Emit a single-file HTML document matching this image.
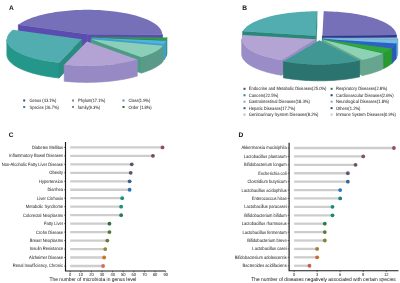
<!DOCTYPE html>
<html><head><meta charset="utf-8"><style>
html,body{margin:0;padding:0;background:#fff;}
svg{display:block;}
text{font-family:"Liberation Sans",sans-serif;fill:#111;text-rendering:geometricPrecision;}
svg{will-change:transform;}
</style></head><body>
<svg width="400" height="283" viewBox="0 0 400 283">
<rect width="400" height="283" fill="#fff"/>
<text x="9" y="10" font-size="6.6" font-weight="bold">A</text>
<text x="242.3" y="10" font-size="6.6" font-weight="bold">B</text>
<text x="8.8" y="137" font-size="6.6" font-weight="bold">C</text>
<text x="238.6" y="137" font-size="6.6" font-weight="bold">D</text>
<polygon points="162.16,34.27 162.14,34.83 162.14,50.46 162.16,49.90" fill="#5a4ea8" stroke="#5a4ea8" stroke-width="0.7" stroke-linejoin="round"/>
<polygon points="87.29,34.27 18.32,24.75 18.32,40.38 87.29,49.90" fill="#5b4db0" stroke="#5b4db0" stroke-width="0.7" stroke-linejoin="round"/>
<polygon points="87.29,34.27 162.14,34.83 162.14,50.46 87.29,49.90" fill="#5b4db0" stroke="#5b4db0" stroke-width="0.7" stroke-linejoin="round"/>
<polygon points="87.29,34.27 18.32,24.75 19.38,23.97 20.53,23.20 21.75,22.45 23.06,21.70 24.45,20.98 25.91,20.27 27.45,19.57 29.06,18.90 30.74,18.24 32.49,17.61 34.31,16.99 36.19,16.39 38.14,15.82 40.14,15.27 42.21,14.74 44.33,14.24 46.50,13.76 48.72,13.31 50.99,12.88 53.30,12.48 55.66,12.10 58.05,11.75 60.48,11.43 62.94,11.14 65.43,10.88 67.95,10.64 70.49,10.43 73.06,10.26 75.64,10.11 78.23,9.99 80.84,9.90 83.45,9.84 86.07,9.81 88.69,9.82 91.31,9.85 93.92,9.91 96.53,10.00 99.12,10.12 101.70,10.27 104.26,10.45 106.80,10.66 109.32,10.89 111.81,11.16 114.27,11.46 116.70,11.78 119.09,12.13 121.44,12.50 123.75,12.91 126.02,13.34 128.23,13.79 130.40,14.27 132.52,14.78 134.58,15.31 136.58,15.86 138.52,16.44 140.40,17.03 142.21,17.65 143.96,18.29 145.64,18.94 147.24,19.62 148.78,20.32 150.23,21.03 151.61,21.75 152.91,22.50 154.14,23.26 155.27,24.03 156.33,24.81 157.30,25.60 158.19,26.41 158.99,27.23 159.70,28.05 160.32,28.88 160.85,29.72 161.29,30.56 161.65,31.41 161.91,32.26 162.08,33.12 162.15,33.97 162.14,34.83" fill="#7670b8"/>
<polygon points="166.86,37.58 166.74,38.51 166.51,39.43 166.18,40.35 166.18,55.98 166.51,55.06 166.74,54.14 166.86,53.21" fill="#238a38" stroke="#238a38" stroke-width="0.7" stroke-linejoin="round"/>
<polygon points="92.01,37.03 166.18,40.35 166.18,55.98 92.01,52.66" fill="#238a38" stroke="#238a38" stroke-width="0.7" stroke-linejoin="round"/>
<polygon points="92.01,37.03 166.86,37.58 166.74,38.51 166.51,39.43 166.18,40.35" fill="#2e9e46"/>
<polygon points="166.15,40.80 165.76,41.68 165.27,42.55 164.68,43.42 164.00,44.28 164.00,59.91 164.68,59.05 165.27,58.18 165.76,57.31 166.15,56.43" fill="#3f9fd0" stroke="#3f9fd0" stroke-width="0.7" stroke-linejoin="round"/>
<polygon points="91.89,37.70 164.00,44.28 164.00,59.91 91.89,53.33" fill="#3f9fd0" stroke="#3f9fd0" stroke-width="0.7" stroke-linejoin="round"/>
<polygon points="91.89,37.70 166.15,40.80 165.76,41.68 165.27,42.55 164.68,43.42 164.00,44.28" fill="#52b2e2"/>
<polygon points="58.98,62.66 56.49,62.39 54.04,62.09 51.62,61.76 49.23,61.40 46.89,61.01 44.59,60.60 42.33,60.16 40.13,59.70 37.97,59.21 35.87,58.69 33.82,58.16 31.84,57.60 29.91,57.01 28.05,56.41 26.25,55.78 24.53,55.14 22.87,54.47 21.28,53.79 19.77,53.09 18.34,52.37 16.98,51.64 15.70,50.89 14.51,50.13 13.40,49.35 12.37,48.56 11.42,47.76 10.56,46.95 9.79,46.13 9.11,45.30 8.52,44.47 8.02,43.63 7.60,42.78 7.28,41.93 7.05,41.07 6.91,40.22 6.87,39.36 6.87,54.66 6.91,55.52 7.05,56.37 7.28,57.23 7.60,58.08 8.02,58.93 8.52,59.77 9.11,60.60 9.79,61.43 10.56,62.25 11.42,63.06 12.37,63.86 13.40,64.65 14.51,65.43 15.70,66.19 16.98,66.94 18.34,67.67 19.77,68.39 21.28,69.09 22.87,69.77 24.53,70.44 26.25,71.08 28.05,71.71 29.91,72.31 31.84,72.90 33.82,73.46 35.87,73.99 37.97,74.51 40.13,75.00 42.33,75.46 44.59,75.90 46.89,76.31 49.23,76.70 51.62,77.06 54.04,77.39 56.49,77.69 58.98,77.96" fill="#25978a" stroke="#25978a" stroke-width="0.7" stroke-linejoin="round"/>
<polygon points="81.74,39.36 58.98,62.66 58.98,77.96 81.74,54.66" fill="#2a8c80" stroke="#2a8c80" stroke-width="0.7" stroke-linejoin="round"/>
<polygon points="81.74,39.36 58.98,62.66 56.47,62.39 53.99,62.08 51.55,61.75 49.15,61.38 46.79,60.99 44.47,60.58 42.20,60.13 39.98,59.66 37.81,59.17 35.69,58.65 33.63,58.11 31.63,57.54 29.70,56.95 27.83,56.34 26.03,55.70 24.29,55.05 22.63,54.38 21.05,53.68 19.53,52.97 18.10,52.25 16.75,51.50 15.47,50.75 14.28,49.97 13.18,49.19 12.16,48.39 11.22,47.58 10.38,46.76 9.62,45.93 8.96,45.10 8.38,44.25 7.90,43.40 7.51,42.55 7.21,41.69 7.00,40.83 6.89,39.96 6.87,39.10 6.95,38.23 7.12,37.37 7.38,36.51 7.73,35.65 8.18,34.80 8.72,33.95 9.35,33.11 10.07,32.28 10.88,31.46 11.78,30.64 12.77,29.84" fill="#52adb0"/>
<polygon points="163.11,45.71 162.36,46.53 161.52,47.35 160.59,48.15 159.58,48.95 158.49,49.73 157.31,50.49 156.04,51.25 154.70,51.99 153.28,52.71 151.78,53.42 150.21,54.10 148.56,54.77 146.85,55.43 145.06,56.06 143.21,56.67 141.29,57.25 141.29,73.05 143.21,72.47 145.06,71.86 146.85,71.23 148.56,70.57 150.21,69.90 151.78,69.22 153.28,68.51 154.70,67.79 156.04,67.05 157.31,66.29 158.49,65.53 159.58,64.75 160.59,63.95 161.52,63.15 162.36,62.33 163.11,61.51" fill="#599b88" stroke="#599b88" stroke-width="0.7" stroke-linejoin="round"/>
<polygon points="91.00,39.13 141.29,57.25 141.29,73.05 91.00,54.93" fill="#4e9a84" stroke="#4e9a84" stroke-width="0.7" stroke-linejoin="round"/>
<polygon points="91.00,39.13 163.11,45.71 162.36,46.53 161.52,47.35 160.59,48.15 159.58,48.95 158.49,49.73 157.31,50.49 156.04,51.25 154.70,51.99 153.28,52.71 151.78,53.42 150.21,54.10 148.56,54.77 146.85,55.43 145.06,56.06 143.21,56.67 141.29,57.25" fill="#8bcfb8"/>
<polygon points="137.27,59.54 135.24,60.12 133.15,60.68 130.99,61.21 128.78,61.72 126.52,62.20 124.20,62.65 121.83,63.07 119.42,63.47 116.97,63.84 114.48,64.18 111.95,64.48 109.39,64.76 106.80,65.01 104.18,65.23 101.55,65.42 98.89,65.57 96.22,65.70 93.54,65.79 90.84,65.85 88.15,65.88 85.45,65.88 82.75,65.85 80.06,65.78 77.38,65.68 74.71,65.55 72.05,65.39 69.42,65.20 66.81,64.98 64.22,64.73 64.22,81.23 66.81,81.48 69.42,81.70 72.05,81.89 74.71,82.05 77.38,82.18 80.06,82.28 82.75,82.35 85.45,82.38 88.15,82.38 90.84,82.35 93.54,82.29 96.22,82.20 98.89,82.07 101.55,81.92 104.18,81.73 106.80,81.51 109.39,81.26 111.95,80.98 114.48,80.68 116.97,80.34 119.42,79.97 121.83,79.57 124.20,79.15 126.52,78.70 128.78,78.22 130.99,77.71 133.15,77.18 135.24,76.62 137.27,76.04" fill="#978ac4" stroke="#978ac4" stroke-width="0.7" stroke-linejoin="round"/>
<polygon points="86.98,41.42 137.27,59.54 135.24,60.12 133.15,60.68 130.99,61.21 128.78,61.72 126.52,62.20 124.20,62.65 121.83,63.07 119.42,63.47 116.97,63.84 114.48,64.18 111.95,64.48 109.39,64.76 106.80,65.01 104.18,65.23 101.55,65.42 98.89,65.57 96.22,65.70 93.54,65.79 90.84,65.85 88.15,65.88 85.45,65.88 82.75,65.85 80.06,65.78 77.38,65.68 74.71,65.55 72.05,65.39 69.42,65.20 66.81,64.98 64.22,64.73" fill="#b3a3d4"/>
<polygon points="315.58,35.67 242.66,31.27 242.66,46.41 315.58,50.81" fill="#2a8878" stroke="#2a8878" stroke-width="0.7" stroke-linejoin="round"/>
<polygon points="315.58,35.67 316.87,11.34 316.87,26.48 315.58,50.81" fill="#2a8878" stroke="#2a8878" stroke-width="0.7" stroke-linejoin="round"/>
<polygon points="315.58,35.67 242.66,31.27 243.18,30.44 243.78,29.60 244.48,28.78 245.26,27.96 246.13,27.16 247.08,26.36 248.12,25.58 249.25,24.80 250.45,24.04 251.74,23.30 253.10,22.57 254.54,21.86 256.06,21.16 257.65,20.48 259.31,19.83 261.04,19.19 262.84,18.57 264.71,17.97 266.64,17.39 268.62,16.84 270.67,16.31 272.77,15.80 274.93,15.32 277.13,14.86 279.38,14.43 281.68,14.03 284.02,13.65 286.40,13.30 288.81,12.98 291.26,12.68 293.74,12.42 296.24,12.18 298.77,11.97 301.32,11.79 303.88,11.64 306.46,11.52 309.06,11.43 311.66,11.37 314.26,11.34 316.87,11.34" fill="#52adb0"/>
<polygon points="322.39,35.65 396.49,35.02 396.49,50.16 322.39,50.79" fill="#2c3a8c" stroke="#2c3a8c" stroke-width="0.7" stroke-linejoin="round"/>
<polygon points="322.39,35.65 323.68,11.33 326.31,11.36 328.94,11.42 331.56,11.51 334.16,11.63 336.76,11.79 339.33,11.97 341.88,12.18 344.41,12.42 346.91,12.69 349.38,12.99 351.81,13.32 354.21,13.68 356.57,14.06 358.88,14.48 361.15,14.91 363.37,15.38 365.54,15.87 367.65,16.38 369.70,16.92 371.70,17.49 373.64,18.07 375.51,18.68 377.31,19.31 379.04,19.96 380.70,20.63 382.29,21.32 383.80,22.03 385.24,22.75 386.60,23.49 387.87,24.25 389.06,25.02 390.17,25.80 391.20,26.60 392.13,27.41 392.98,28.23 393.74,29.05 394.41,29.89 394.99,30.73 395.47,31.58 395.87,32.43 396.17,33.29 396.38,34.15 396.49,35.02" fill="#7670b8"/>
<polygon points="397.63,38.15 397.62,38.58 397.62,53.72 397.63,53.29" fill="#a8c0d0" stroke="#a8c0d0" stroke-width="0.7" stroke-linejoin="round"/>
<polygon points="323.50,38.15 397.62,38.58 397.62,53.72 323.50,53.29" fill="#a8c0d0" stroke="#a8c0d0" stroke-width="0.7" stroke-linejoin="round"/>
<polygon points="323.50,38.15 397.60,37.52 397.62,38.58" fill="#a8c0d0"/>
<polygon points="397.61,38.85 397.44,40.12 397.44,55.26 397.61,53.99" fill="#70b0d8" stroke="#70b0d8" stroke-width="0.7" stroke-linejoin="round"/>
<polygon points="323.49,38.42 397.44,40.12 397.44,55.26 323.49,53.56" fill="#70b0d8" stroke="#70b0d8" stroke-width="0.7" stroke-linejoin="round"/>
<polygon points="323.49,38.42 397.61,38.85 397.44,40.12" fill="#70b0d8"/>
<polygon points="397.41,40.35 397.14,41.33 396.74,42.32 396.23,43.29 396.23,58.43 396.74,57.46 397.14,56.47 397.41,55.49" fill="#6ab2e2" stroke="#6ab2e2" stroke-width="0.7" stroke-linejoin="round"/>
<polygon points="323.46,38.65 396.23,43.29 396.23,58.43 323.46,53.79" fill="#6ab2e2" stroke="#6ab2e2" stroke-width="0.7" stroke-linejoin="round"/>
<polygon points="323.46,38.65 397.41,40.35 397.14,41.33 396.74,42.32 396.23,43.29" fill="#78bde8"/>
<polygon points="396.08,43.62 395.49,44.53 394.78,45.44 393.97,46.33 393.06,47.22 392.05,48.09 392.05,63.23 393.06,62.36 393.97,61.47 394.78,60.58 395.49,59.67 396.08,58.76" fill="#2a5ab8" stroke="#2a5ab8" stroke-width="0.7" stroke-linejoin="round"/>
<polygon points="323.31,38.97 392.05,48.09 392.05,63.23 323.31,54.11" fill="#2a5ab8" stroke="#2a5ab8" stroke-width="0.7" stroke-linejoin="round"/>
<polygon points="323.31,38.97 396.08,43.62 395.49,44.53 394.78,45.44 393.97,46.33 393.06,47.22 392.05,48.09" fill="#2d62c4"/>
<polygon points="281.28,60.07 279.00,59.68 276.77,59.25 274.59,58.80 272.46,58.33 270.38,57.84 268.36,57.32 266.40,56.78 264.49,56.22 262.65,55.63 260.88,55.03 259.17,54.41 257.53,53.77 255.96,53.11 254.47,52.43 253.05,51.74 251.71,51.03 250.45,50.31 249.27,49.57 248.17,48.83 247.15,48.07 246.22,47.29 245.37,46.51 244.61,45.72 243.94,44.93 243.35,44.12 242.85,43.31 242.45,42.49 242.13,41.67 241.90,40.85 241.76,40.02 241.72,39.20 241.72,54.34 241.76,55.16 241.90,55.99 242.13,56.81 242.45,57.63 242.85,58.45 243.35,59.26 243.94,60.07 244.61,60.86 245.37,61.65 246.22,62.43 247.15,63.21 248.17,63.97 249.27,64.71 250.45,65.45 251.71,66.17 253.05,66.88 254.47,67.57 255.96,68.25 257.53,68.91 259.17,69.55 260.88,70.17 262.65,70.77 264.49,71.36 266.40,71.92 268.36,72.46 270.38,72.98 272.46,73.47 274.59,73.94 276.77,74.39 279.00,74.82 281.28,75.21" fill="#9a8cc6" stroke="#9a8cc6" stroke-width="0.7" stroke-linejoin="round"/>
<polygon points="315.85,39.20 281.28,60.07 281.28,75.21 315.85,54.34" fill="#9a8cc6" stroke="#9a8cc6" stroke-width="0.7" stroke-linejoin="round"/>
<polygon points="315.85,39.20 281.28,60.07 278.99,59.67 276.75,59.25 274.56,58.80 272.42,58.32 270.33,57.82 268.30,57.30 266.33,56.76 264.42,56.19 262.57,55.61 260.79,55.00 259.08,54.37 257.43,53.73 255.86,53.06 254.37,52.38 252.95,51.69 251.61,50.97 250.35,50.25 249.16,49.51 248.07,48.75 247.05,47.99 246.12,47.21 245.28,46.43 244.53,45.63 243.86,44.83 243.28,44.02 242.79,43.20 242.40,42.38 242.09,41.56 241.87,40.73 241.75,39.90 241.72,39.07 241.78,38.24 241.93,37.41 242.18,36.58 242.51,35.76 242.94,34.94" fill="#b4a4d4"/>
<polygon points="391.69,48.47 390.59,49.32 389.40,50.15 388.11,50.97 386.72,51.77 385.25,52.55 383.68,53.31 383.68,68.45 385.25,67.69 386.72,66.91 388.11,66.11 389.40,65.29 390.59,64.46 391.69,63.61" fill="#279a34" stroke="#279a34" stroke-width="0.7" stroke-linejoin="round"/>
<polygon points="322.96,39.36 383.68,53.31 383.68,68.45 322.96,54.50" fill="#279a34" stroke="#279a34" stroke-width="0.7" stroke-linejoin="round"/>
<polygon points="322.96,39.36 391.69,48.47 390.59,49.32 389.40,50.15 388.11,50.97 386.72,51.77 385.25,52.55 383.68,53.31" fill="#2ea83c"/>
<polygon points="382.86,53.57 381.33,54.26 379.73,54.93 378.06,55.58 376.32,56.22 374.51,56.83 372.64,57.42 370.71,57.99 368.72,58.54 366.66,59.06 364.56,59.56 362.40,60.04 362.40,75.54 364.56,75.06 366.66,74.56 368.72,74.04 370.71,73.49 372.64,72.92 374.51,72.33 376.32,71.72 378.06,71.08 379.73,70.43 381.33,69.76 382.86,69.07" fill="#66a68e" stroke="#66a68e" stroke-width="0.7" stroke-linejoin="round"/>
<polygon points="322.14,39.61 362.40,60.04 362.40,75.54 322.14,55.11" fill="#66a68e" stroke="#66a68e" stroke-width="0.7" stroke-linejoin="round"/>
<polygon points="322.14,39.61 382.86,53.57 381.33,54.26 379.73,54.93 378.06,55.58 376.32,56.22 374.51,56.83 372.64,57.42 370.71,57.99 368.72,58.54 366.66,59.06 364.56,59.56 362.40,60.04" fill="#8ed2b6"/>
<polygon points="359.59,60.59 357.32,61.05 355.00,61.49 352.64,61.90 350.23,62.28 347.79,62.63 345.31,62.95 342.79,63.24 340.24,63.50 337.67,63.73 335.07,63.94 332.45,64.11 329.82,64.25 327.17,64.36 324.51,64.43 321.84,64.48 319.17,64.49 316.50,64.47 313.84,64.43 311.18,64.34 308.53,64.23 305.90,64.09 303.28,63.92 300.69,63.71 298.12,63.48 295.57,63.21 293.06,62.91 290.58,62.59 288.14,62.23 285.74,61.85 283.38,61.44 283.38,77.74 285.74,78.15 288.14,78.53 290.58,78.89 293.06,79.21 295.57,79.51 298.12,79.78 300.69,80.01 303.28,80.22 305.90,80.39 308.53,80.53 311.18,80.64 313.84,80.73 316.50,80.77 319.17,80.79 321.84,80.78 324.51,80.73 327.17,80.66 329.82,80.55 332.45,80.41 335.07,80.24 337.67,80.03 340.24,79.80 342.79,79.54 345.31,79.25 347.79,78.93 350.23,78.58 352.64,78.20 355.00,77.79 357.32,77.35 359.59,76.89" fill="#2a736e" stroke="#2a736e" stroke-width="0.7" stroke-linejoin="round"/>
<polygon points="319.32,40.16 359.59,60.59 357.32,61.05 355.00,61.49 352.64,61.90 350.23,62.28 347.79,62.63 345.31,62.95 342.79,63.24 340.24,63.50 337.67,63.73 335.07,63.94 332.45,64.11 329.82,64.25 327.17,64.36 324.51,64.43 321.84,64.48 319.17,64.49 316.50,64.47 313.84,64.43 311.18,64.34 308.53,64.23 305.90,64.09 303.28,63.92 300.69,63.71 298.12,63.48 295.57,63.21 293.06,62.91 290.58,62.59 288.14,62.23 285.74,61.85 283.38,61.44" fill="#3f9894"/>
<rect x="23.20" y="99.50" width="2" height="2" fill="#4a4478"/>
<text transform="translate(29.50,102.00) scale(0.8511,1)" font-size="4.70" text-anchor="start" fill="#222">Genus (43.1%)</text>
<rect x="23.20" y="106.00" width="2" height="2" fill="#3f8080"/>
<text transform="translate(29.50,108.50) scale(0.8511,1)" font-size="4.70" text-anchor="start" fill="#222">Species (26.7%)</text>
<rect x="72.00" y="99.50" width="2" height="2" fill="#8a82a8"/>
<text transform="translate(78.00,102.00) scale(0.8511,1)" font-size="4.70" text-anchor="start" fill="#222">Phylum(17.1%)</text>
<rect x="72.00" y="106.00" width="2" height="2" fill="#6a9a8a"/>
<text transform="translate(78.00,108.50) scale(0.8511,1)" font-size="4.70" text-anchor="start" fill="#222">family(9.3%)</text>
<rect x="122.50" y="99.50" width="2" height="2" fill="#5a90b8"/>
<text transform="translate(128.50,102.00) scale(0.8511,1)" font-size="4.70" text-anchor="start" fill="#222">Class(1.9%)</text>
<rect x="122.50" y="106.00" width="2" height="2" fill="#2a6a38"/>
<text transform="translate(128.50,108.50) scale(0.8511,1)" font-size="4.70" text-anchor="start" fill="#222">Order (1.8%)</text>
<rect x="243.50" y="87.80" width="2" height="2" fill="#4a4478"/>
<text transform="translate(248.80,90.30) scale(0.8766,1)" font-size="4.70" text-anchor="start" fill="#222">Endocrine and Metabolic Diseases(25.0%)</text>
<rect x="243.50" y="94.25" width="2" height="2" fill="#3f8080"/>
<text transform="translate(248.80,96.75) scale(0.8766,1)" font-size="4.70" text-anchor="start" fill="#222">Cancers(22.5%)</text>
<rect x="243.50" y="100.70" width="2" height="2" fill="#a098c0"/>
<text transform="translate(248.80,103.20) scale(0.8766,1)" font-size="4.70" text-anchor="start" fill="#222">Gastrointestinal Diseases(18.3%)</text>
<rect x="243.50" y="107.15" width="2" height="2" fill="#2f6660"/>
<text transform="translate(248.80,109.65) scale(0.8766,1)" font-size="4.70" text-anchor="start" fill="#222">Hepatic Diseases(17.7%)</text>
<rect x="243.50" y="113.60" width="2" height="2" fill="#9ec2b4"/>
<text transform="translate(248.80,116.10) scale(0.8766,1)" font-size="4.70" text-anchor="start" fill="#222">Genitourinary System Diseases(8.2%)</text>
<rect x="330.60" y="87.80" width="2" height="2" fill="#2f7a40"/>
<text transform="translate(336.00,90.30) scale(0.8766,1)" font-size="4.70" text-anchor="start" fill="#222">Respiratory Diseases(2.8%)</text>
<rect x="330.60" y="94.25" width="2" height="2" fill="#2a3a70"/>
<text transform="translate(336.00,96.75) scale(0.8766,1)" font-size="4.70" text-anchor="start" fill="#222">Cardiovascular Diseases(2.6%)</text>
<rect x="330.60" y="100.70" width="2" height="2" fill="#8aa4c0"/>
<text transform="translate(336.00,103.20) scale(0.8766,1)" font-size="4.70" text-anchor="start" fill="#222">Neurological Diseases(1.8%)</text>
<rect x="330.60" y="107.15" width="2" height="2" fill="#2f5a50"/>
<text transform="translate(336.00,109.65) scale(0.8766,1)" font-size="4.70" text-anchor="start" fill="#222">Others(1.2%)</text>
<rect x="330.60" y="113.60" width="2" height="2" fill="#c0c0c8"/>
<text transform="translate(336.00,116.10) scale(0.8766,1)" font-size="4.70" text-anchor="start" fill="#222">Immune System Diseases(0.9%)</text>
<line x1="70.20" y1="147.40" x2="162.51" y2="147.40" stroke="#cdcdcd" stroke-width="2.3"/>
<line x1="70.20" y1="155.87" x2="152.96" y2="155.87" stroke="#cdcdcd" stroke-width="2.3"/>
<line x1="70.20" y1="164.34" x2="131.74" y2="164.34" stroke="#cdcdcd" stroke-width="2.3"/>
<line x1="70.20" y1="172.81" x2="130.68" y2="172.81" stroke="#cdcdcd" stroke-width="2.3"/>
<line x1="70.20" y1="181.28" x2="129.62" y2="181.28" stroke="#cdcdcd" stroke-width="2.3"/>
<line x1="70.20" y1="189.75" x2="129.62" y2="189.75" stroke="#cdcdcd" stroke-width="2.3"/>
<line x1="70.20" y1="198.22" x2="122.19" y2="198.22" stroke="#cdcdcd" stroke-width="2.3"/>
<line x1="70.20" y1="206.69" x2="121.13" y2="206.69" stroke="#cdcdcd" stroke-width="2.3"/>
<line x1="70.20" y1="215.16" x2="121.13" y2="215.16" stroke="#cdcdcd" stroke-width="2.3"/>
<line x1="70.20" y1="223.63" x2="109.46" y2="223.63" stroke="#cdcdcd" stroke-width="2.3"/>
<line x1="70.20" y1="232.10" x2="109.46" y2="232.10" stroke="#cdcdcd" stroke-width="2.3"/>
<line x1="70.20" y1="240.57" x2="107.34" y2="240.57" stroke="#cdcdcd" stroke-width="2.3"/>
<line x1="70.20" y1="249.04" x2="105.21" y2="249.04" stroke="#cdcdcd" stroke-width="2.3"/>
<line x1="70.20" y1="257.51" x2="104.15" y2="257.51" stroke="#cdcdcd" stroke-width="2.3"/>
<line x1="70.20" y1="265.98" x2="103.09" y2="265.98" stroke="#cdcdcd" stroke-width="2.3"/>
<circle cx="162.51" cy="147.40" r="1.9" fill="#944a68"/>
<circle cx="152.96" cy="155.87" r="1.9" fill="#7a4562"/>
<circle cx="131.74" cy="164.34" r="1.9" fill="#5e5468"/>
<circle cx="130.68" cy="172.81" r="1.9" fill="#5e5468"/>
<circle cx="129.62" cy="181.28" r="1.9" fill="#3d5d8c"/>
<circle cx="129.62" cy="189.75" r="1.9" fill="#2a72b4"/>
<circle cx="122.19" cy="198.22" r="1.9" fill="#178f88"/>
<circle cx="121.13" cy="206.69" r="1.9" fill="#179278"/>
<circle cx="121.13" cy="215.16" r="1.9" fill="#2c7862"/>
<circle cx="109.46" cy="223.63" r="1.9" fill="#2c6e40"/>
<circle cx="109.46" cy="232.10" r="1.9" fill="#4a7a30"/>
<circle cx="107.34" cy="240.57" r="1.9" fill="#6a7d2a"/>
<circle cx="105.21" cy="249.04" r="1.9" fill="#8f8a2c"/>
<circle cx="104.15" cy="257.51" r="1.9" fill="#c8762a"/>
<circle cx="103.09" cy="265.98" r="1.9" fill="#d86c5c"/>
<text transform="translate(63.10,148.85) scale(0.8723,1)" font-size="4.70" text-anchor="end" fill="#222">Diabetes Mellitus</text>
<line x1="64.10" y1="147.40" x2="65.50" y2="147.40" stroke="#222" stroke-width="0.6"/>
<text transform="translate(63.10,157.32) scale(0.8723,1)" font-size="4.70" text-anchor="end" fill="#222">Inflammatory Bowel Diseases</text>
<line x1="64.10" y1="155.87" x2="65.50" y2="155.87" stroke="#222" stroke-width="0.6"/>
<text transform="translate(63.10,165.79) scale(0.8723,1)" font-size="4.70" text-anchor="end" fill="#222">Non-Alcoholic Fatty Liver Disease</text>
<line x1="64.10" y1="164.34" x2="65.50" y2="164.34" stroke="#222" stroke-width="0.6"/>
<text transform="translate(63.10,174.26) scale(0.8723,1)" font-size="4.70" text-anchor="end" fill="#222">Obesity</text>
<line x1="64.10" y1="172.81" x2="65.50" y2="172.81" stroke="#222" stroke-width="0.6"/>
<text transform="translate(63.10,182.73) scale(0.8723,1)" font-size="4.70" text-anchor="end" fill="#222">Hypertension</text>
<line x1="64.10" y1="181.28" x2="65.50" y2="181.28" stroke="#222" stroke-width="0.6"/>
<text transform="translate(63.10,191.20) scale(0.8723,1)" font-size="4.70" text-anchor="end" fill="#222">Diarrhea</text>
<line x1="64.10" y1="189.75" x2="65.50" y2="189.75" stroke="#222" stroke-width="0.6"/>
<text transform="translate(63.10,199.67) scale(0.8723,1)" font-size="4.70" text-anchor="end" fill="#222">Liver Cirrhosis</text>
<line x1="64.10" y1="198.22" x2="65.50" y2="198.22" stroke="#222" stroke-width="0.6"/>
<text transform="translate(63.10,208.14) scale(0.8723,1)" font-size="4.70" text-anchor="end" fill="#222">Metabolic Syndrome</text>
<line x1="64.10" y1="206.69" x2="65.50" y2="206.69" stroke="#222" stroke-width="0.6"/>
<text transform="translate(63.10,216.61) scale(0.8723,1)" font-size="4.70" text-anchor="end" fill="#222">Colorectal Neoplasms</text>
<line x1="64.10" y1="215.16" x2="65.50" y2="215.16" stroke="#222" stroke-width="0.6"/>
<text transform="translate(63.10,225.08) scale(0.8723,1)" font-size="4.70" text-anchor="end" fill="#222">Fatty Liver</text>
<line x1="64.10" y1="223.63" x2="65.50" y2="223.63" stroke="#222" stroke-width="0.6"/>
<text transform="translate(63.10,233.55) scale(0.8723,1)" font-size="4.70" text-anchor="end" fill="#222">Crohn Disease</text>
<line x1="64.10" y1="232.10" x2="65.50" y2="232.10" stroke="#222" stroke-width="0.6"/>
<text transform="translate(63.10,242.02) scale(0.8723,1)" font-size="4.70" text-anchor="end" fill="#222">Breast Neoplasms</text>
<line x1="64.10" y1="240.57" x2="65.50" y2="240.57" stroke="#222" stroke-width="0.6"/>
<text transform="translate(63.10,250.49) scale(0.8723,1)" font-size="4.70" text-anchor="end" fill="#222">Insulin Resistance</text>
<line x1="64.10" y1="249.04" x2="65.50" y2="249.04" stroke="#222" stroke-width="0.6"/>
<text transform="translate(63.10,258.96) scale(0.8723,1)" font-size="4.70" text-anchor="end" fill="#222">Alzheimer Disease</text>
<line x1="64.10" y1="257.51" x2="65.50" y2="257.51" stroke="#222" stroke-width="0.6"/>
<text transform="translate(63.10,267.43) scale(0.8723,1)" font-size="4.70" text-anchor="end" fill="#222">Renal Insufficiency, Chronic</text>
<line x1="64.10" y1="265.98" x2="65.50" y2="265.98" stroke="#222" stroke-width="0.6"/>
<polyline points="65.50,142.10 65.50,270.98 165.50,270.98" fill="none" stroke="#1a1a1a" stroke-width="1.15"/>
<line x1="70.20" y1="270.98" x2="70.20" y2="272.38" stroke="#222" stroke-width="0.6"/>
<text transform="translate(70.20,276.08) scale(0.9205,1)" font-size="4.40" text-anchor="middle" fill="#333">0</text>
<line x1="80.81" y1="270.98" x2="80.81" y2="272.38" stroke="#222" stroke-width="0.6"/>
<text transform="translate(80.81,276.08) scale(0.9205,1)" font-size="4.40" text-anchor="middle" fill="#333">10</text>
<line x1="91.42" y1="270.98" x2="91.42" y2="272.38" stroke="#222" stroke-width="0.6"/>
<text transform="translate(91.42,276.08) scale(0.9205,1)" font-size="4.40" text-anchor="middle" fill="#333">20</text>
<line x1="102.03" y1="270.98" x2="102.03" y2="272.38" stroke="#222" stroke-width="0.6"/>
<text transform="translate(102.03,276.08) scale(0.9205,1)" font-size="4.40" text-anchor="middle" fill="#333">30</text>
<line x1="112.64" y1="270.98" x2="112.64" y2="272.38" stroke="#222" stroke-width="0.6"/>
<text transform="translate(112.64,276.08) scale(0.9205,1)" font-size="4.40" text-anchor="middle" fill="#333">40</text>
<line x1="123.25" y1="270.98" x2="123.25" y2="272.38" stroke="#222" stroke-width="0.6"/>
<text transform="translate(123.25,276.08) scale(0.9205,1)" font-size="4.40" text-anchor="middle" fill="#333">50</text>
<line x1="133.86" y1="270.98" x2="133.86" y2="272.38" stroke="#222" stroke-width="0.6"/>
<text transform="translate(133.86,276.08) scale(0.9205,1)" font-size="4.40" text-anchor="middle" fill="#333">60</text>
<line x1="144.47" y1="270.98" x2="144.47" y2="272.38" stroke="#222" stroke-width="0.6"/>
<text transform="translate(144.47,276.08) scale(0.9205,1)" font-size="4.40" text-anchor="middle" fill="#333">70</text>
<line x1="155.08" y1="270.98" x2="155.08" y2="272.38" stroke="#222" stroke-width="0.6"/>
<text transform="translate(155.08,276.08) scale(0.9205,1)" font-size="4.40" text-anchor="middle" fill="#333">80</text>
<line x1="165.69" y1="270.98" x2="165.69" y2="272.38" stroke="#222" stroke-width="0.6"/>
<text transform="translate(165.69,276.08) scale(0.9205,1)" font-size="4.40" text-anchor="middle" fill="#333">90</text>
<text transform="translate(49.50,280.90) scale(0.9226,1)" font-size="5.30" text-anchor="start" fill="#111">The number of microbiota in genus level</text>
<line x1="294.10" y1="148.00" x2="393.94" y2="148.00" stroke="#cdcdcd" stroke-width="2.3"/>
<line x1="294.10" y1="156.41" x2="363.22" y2="156.41" stroke="#cdcdcd" stroke-width="2.3"/>
<line x1="294.10" y1="164.82" x2="355.54" y2="164.82" stroke="#cdcdcd" stroke-width="2.3"/>
<line x1="294.10" y1="173.23" x2="347.86" y2="173.23" stroke="#cdcdcd" stroke-width="2.3"/>
<line x1="294.10" y1="181.64" x2="347.86" y2="181.64" stroke="#cdcdcd" stroke-width="2.3"/>
<line x1="294.10" y1="190.05" x2="340.18" y2="190.05" stroke="#cdcdcd" stroke-width="2.3"/>
<line x1="294.10" y1="198.46" x2="340.18" y2="198.46" stroke="#cdcdcd" stroke-width="2.3"/>
<line x1="294.10" y1="206.87" x2="332.50" y2="206.87" stroke="#cdcdcd" stroke-width="2.3"/>
<line x1="294.10" y1="215.28" x2="332.50" y2="215.28" stroke="#cdcdcd" stroke-width="2.3"/>
<line x1="294.10" y1="223.69" x2="324.82" y2="223.69" stroke="#cdcdcd" stroke-width="2.3"/>
<line x1="294.10" y1="232.10" x2="324.82" y2="232.10" stroke="#cdcdcd" stroke-width="2.3"/>
<line x1="294.10" y1="240.51" x2="324.82" y2="240.51" stroke="#cdcdcd" stroke-width="2.3"/>
<line x1="294.10" y1="248.92" x2="317.14" y2="248.92" stroke="#cdcdcd" stroke-width="2.3"/>
<line x1="294.10" y1="257.33" x2="317.14" y2="257.33" stroke="#cdcdcd" stroke-width="2.3"/>
<line x1="294.10" y1="265.74" x2="309.46" y2="265.74" stroke="#cdcdcd" stroke-width="2.3"/>
<circle cx="393.94" cy="148.00" r="1.9" fill="#944a68"/>
<circle cx="363.22" cy="156.41" r="1.9" fill="#84506a"/>
<circle cx="355.54" cy="164.82" r="1.9" fill="#6a5068"/>
<circle cx="347.86" cy="173.23" r="1.9" fill="#5a5a80"/>
<circle cx="347.86" cy="181.64" r="1.9" fill="#3e6496"/>
<circle cx="340.18" cy="190.05" r="1.9" fill="#2a78b8"/>
<circle cx="340.18" cy="198.46" r="1.9" fill="#1a8080"/>
<circle cx="332.50" cy="206.87" r="1.9" fill="#1a8a78"/>
<circle cx="332.50" cy="215.28" r="1.9" fill="#1a8a6a"/>
<circle cx="324.82" cy="223.69" r="1.9" fill="#2a7a4a"/>
<circle cx="324.82" cy="232.10" r="1.9" fill="#5a7a3a"/>
<circle cx="324.82" cy="240.51" r="1.9" fill="#7a8a3a"/>
<circle cx="317.14" cy="248.92" r="1.9" fill="#a0802a"/>
<circle cx="317.14" cy="257.33" r="1.9" fill="#c46c2a"/>
<circle cx="309.46" cy="265.74" r="1.9" fill="#c86050"/>
<text transform="translate(286.70,149.45) scale(0.8723,1)" font-size="4.70" text-anchor="end" fill="#222">Akkermansia muciniphila</text>
<line x1="287.70" y1="148.00" x2="289.10" y2="148.00" stroke="#222" stroke-width="0.6"/>
<text transform="translate(286.70,157.86) scale(0.8723,1)" font-size="4.70" text-anchor="end" fill="#222">Lactobacillus plantarum</text>
<line x1="287.70" y1="156.41" x2="289.10" y2="156.41" stroke="#222" stroke-width="0.6"/>
<text transform="translate(286.70,166.27) scale(0.8723,1)" font-size="4.70" text-anchor="end" fill="#222">Bifidobacterium longum</text>
<line x1="287.70" y1="164.82" x2="289.10" y2="164.82" stroke="#222" stroke-width="0.6"/>
<text transform="translate(286.70,174.68) scale(0.8723,1)" font-size="4.70" text-anchor="end" fill="#222">Escherichia coli</text>
<line x1="287.70" y1="173.23" x2="289.10" y2="173.23" stroke="#222" stroke-width="0.6"/>
<text transform="translate(286.70,183.09) scale(0.8723,1)" font-size="4.70" text-anchor="end" fill="#222">Clostridium butyricum</text>
<line x1="287.70" y1="181.64" x2="289.10" y2="181.64" stroke="#222" stroke-width="0.6"/>
<text transform="translate(286.70,191.50) scale(0.8723,1)" font-size="4.70" text-anchor="end" fill="#222">Lactobacillus acidophilus</text>
<line x1="287.70" y1="190.05" x2="289.10" y2="190.05" stroke="#222" stroke-width="0.6"/>
<text transform="translate(286.70,199.91) scale(0.8723,1)" font-size="4.70" text-anchor="end" fill="#222">Enterococcus hirae</text>
<line x1="287.70" y1="198.46" x2="289.10" y2="198.46" stroke="#222" stroke-width="0.6"/>
<text transform="translate(286.70,208.32) scale(0.8723,1)" font-size="4.70" text-anchor="end" fill="#222">Lactobacillus paracasei</text>
<line x1="287.70" y1="206.87" x2="289.10" y2="206.87" stroke="#222" stroke-width="0.6"/>
<text transform="translate(286.70,216.73) scale(0.8723,1)" font-size="4.70" text-anchor="end" fill="#222">Bifidobacterium bifidum</text>
<line x1="287.70" y1="215.28" x2="289.10" y2="215.28" stroke="#222" stroke-width="0.6"/>
<text transform="translate(286.70,225.14) scale(0.8723,1)" font-size="4.70" text-anchor="end" fill="#222">Lactobacillus rhamnosus</text>
<line x1="287.70" y1="223.69" x2="289.10" y2="223.69" stroke="#222" stroke-width="0.6"/>
<text transform="translate(286.70,233.55) scale(0.8723,1)" font-size="4.70" text-anchor="end" fill="#222">Lactobacillus fermentum</text>
<line x1="287.70" y1="232.10" x2="289.10" y2="232.10" stroke="#222" stroke-width="0.6"/>
<text transform="translate(286.70,241.96) scale(0.8723,1)" font-size="4.70" text-anchor="end" fill="#222">Bifidobacterium breve</text>
<line x1="287.70" y1="240.51" x2="289.10" y2="240.51" stroke="#222" stroke-width="0.6"/>
<text transform="translate(286.70,250.37) scale(0.8723,1)" font-size="4.70" text-anchor="end" fill="#222">Lactobacillus casei</text>
<line x1="287.70" y1="248.92" x2="289.10" y2="248.92" stroke="#222" stroke-width="0.6"/>
<text transform="translate(286.70,258.78) scale(0.8723,1)" font-size="4.70" text-anchor="end" fill="#222">Bifidobacterium adolescentis</text>
<line x1="287.70" y1="257.33" x2="289.10" y2="257.33" stroke="#222" stroke-width="0.6"/>
<text transform="translate(286.70,267.19) scale(0.8723,1)" font-size="4.70" text-anchor="end" fill="#222">Bacteroides acidifaciens</text>
<line x1="287.70" y1="265.74" x2="289.10" y2="265.74" stroke="#222" stroke-width="0.6"/>
<polyline points="289.10,142.80 289.10,270.74 398.50,270.74" fill="none" stroke="#1a1a1a" stroke-width="1.15"/>
<line x1="294.10" y1="270.74" x2="294.10" y2="272.14" stroke="#222" stroke-width="0.6"/>
<text transform="translate(294.10,275.84) scale(0.9205,1)" font-size="4.40" text-anchor="middle" fill="#333">0</text>
<line x1="317.14" y1="270.74" x2="317.14" y2="272.14" stroke="#222" stroke-width="0.6"/>
<text transform="translate(317.14,275.84) scale(0.9205,1)" font-size="4.40" text-anchor="middle" fill="#333">3</text>
<line x1="340.18" y1="270.74" x2="340.18" y2="272.14" stroke="#222" stroke-width="0.6"/>
<text transform="translate(340.18,275.84) scale(0.9205,1)" font-size="4.40" text-anchor="middle" fill="#333">6</text>
<line x1="363.22" y1="270.74" x2="363.22" y2="272.14" stroke="#222" stroke-width="0.6"/>
<text transform="translate(363.22,275.84) scale(0.9205,1)" font-size="4.40" text-anchor="middle" fill="#333">9</text>
<line x1="386.26" y1="270.74" x2="386.26" y2="272.14" stroke="#222" stroke-width="0.6"/>
<text transform="translate(386.26,275.84) scale(0.9205,1)" font-size="4.40" text-anchor="middle" fill="#333">12</text>
<text transform="translate(251.20,280.90) scale(0.9226,1)" font-size="5.30" text-anchor="start" fill="#111">The number of diseases negatively associated with certain species</text>
</svg>
</body></html>
